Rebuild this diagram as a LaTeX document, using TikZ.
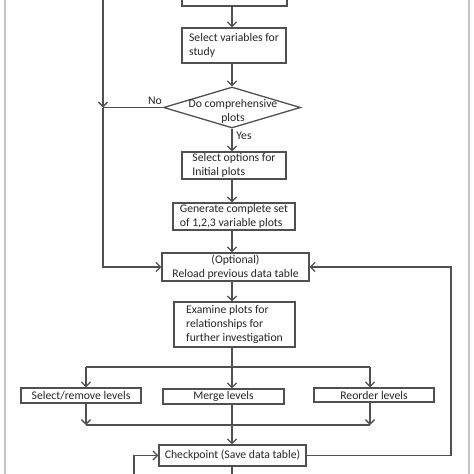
\documentclass[tikz,border=0pt]{standalone}
\usepackage{fontspec}
\setmainfont{Carlito}
\usetikzlibrary{arrows.meta,shapes.geometric}
\definecolor{ln}{HTML}{505050}
\definecolor{tx}{HTML}{262626}
\definecolor{fr}{HTML}{C4C4C4}
\tikzset{
  box/.style={draw=ln,line width=1.3pt,rectangle,inner sep=0pt,align=left,text=tx,
    font=\fontsize{11.7}{14}\selectfont},
  cbox/.style={box,align=center},
  lab/.style={text=tx,font=\fontsize{11.7}{14}\selectfont,inner sep=0pt},
  arr/.style={draw=ln,line width=1.3pt,-{Straight Barb[length=4.5pt,width=9pt]}},
  ln/.style={draw=ln,line width=1.3pt},
}
\begin{document}
\begin{tikzpicture}[x=1pt,y=-1pt]
\useasboundingbox (0,0) rectangle (474,474);
\clip (0,0) rectangle (474,474);
\fill[white] (0,0) rectangle (474,474);
\draw[fr,line width=1.8pt] (5,-5) -- (5,480);
\draw[fr,line width=1.8pt] (469,-5) -- (469,480);
% nodes
\node[box,minimum width=105pt,minimum height=28pt] (top) at (234.5,-8) {};
\node[box,minimum width=104pt,minimum height=35pt] (selvar) at (234,45.5) {Select variables for\\study};
\node[draw=ln,line width=1.3pt,diamond,inner sep=0pt,minimum width=137pt,minimum height=41pt] (dec) at (232,107.5) {};
\node[lab,align=center] (dectext) at (233,111.5) {Do comprehensive\\plots};
\node[box,minimum width=104pt,minimum height=27pt] (selopt) at (234,165.5) {Select options for\\Initial plots};
\node[box,minimum width=122pt,minimum height=27pt] (gen) at (234,216.5) {Generate complete set\\of 1,2,3 variable plots};
\node[cbox,minimum width=147pt,minimum height=28pt] (reload) at (235.5,267) {(Optional)\\Reload previous data table};
\node[box,minimum width=121pt,minimum height=45pt] (exam) at (234.5,324.5) {Examine plots for\\relationships for\\further investigation};
\node[cbox,minimum width=120pt,minimum height=15pt] (selrem) at (81,395.5) {Select/remove levels};
\node[cbox,minimum width=121pt,minimum height=15pt] (merge) at (223.5,396.5) {Merge levels};
\node[cbox,minimum width=120pt,minimum height=14pt] (reorder) at (374,395) {Reorder levels};
\node[cbox,minimum width=147pt,minimum height=21pt] (check) at (232.5,455.5) {Checkpoint (Save data table)};
\node[lab] (no) at (155,101) {No};
\node[lab] (yes) at (244,136) {Yes};
% coordinates
\coordinate (ax) at (232,0);
\coordinate (lt) at (103,-5);
\coordinate (jn) at (103,107.5);
\coordinate (rc) at (451,455.5);
\coordinate (brl) at (86,367);
\coordinate (brr) at (370,367);
\coordinate (mgl) at (86,425);
\coordinate (mgr) at (370,425);
\coordinate (bl) at (134,480);
\coordinate (bc) at (232,480);
% connectors
\draw[arr] (top.south -| ax) -- (selvar.north -| ax);
\draw[arr] (selvar.south -| ax) -- (dec.north -| ax);
\draw[arr] (dec.south -| ax) -- (selopt.north -| ax);
\draw[arr] (selopt.south -| ax) -- (gen.north -| ax);
\draw[arr] (gen.south -| ax) -- (reload.north -| ax);
\draw[arr] (reload.south -| ax) -- (exam.north -| ax);
\draw[arr] (lt) -- (jn);
\draw[ln] (dec.west) -- (jn);
\draw[arr] (jn) |- (reload.west);
\draw[arr] (check.east) -- (rc) |- (reload.east);
\draw[arr] (exam.south -| ax) -- (merge.north -| ax);
\draw[ln] (brl) -- (brr);
\draw[arr] (brl) -- (selrem.north -| brl);
\draw[arr] (brr) -- (reorder.north -| brr);
\draw[arr] (selrem.south -| mgl) -- (mgl);
\draw[arr] (reorder.south -| mgr) -- (mgr);
\draw[ln] (mgl) -- (mgr);
\draw[arr] (merge.south -| ax) -- (check.north -| ax);
\draw[arr] (bl) |- (check.west);
\draw[ln] (check.south -| ax) -- (bc);
\end{tikzpicture}
\end{document}
